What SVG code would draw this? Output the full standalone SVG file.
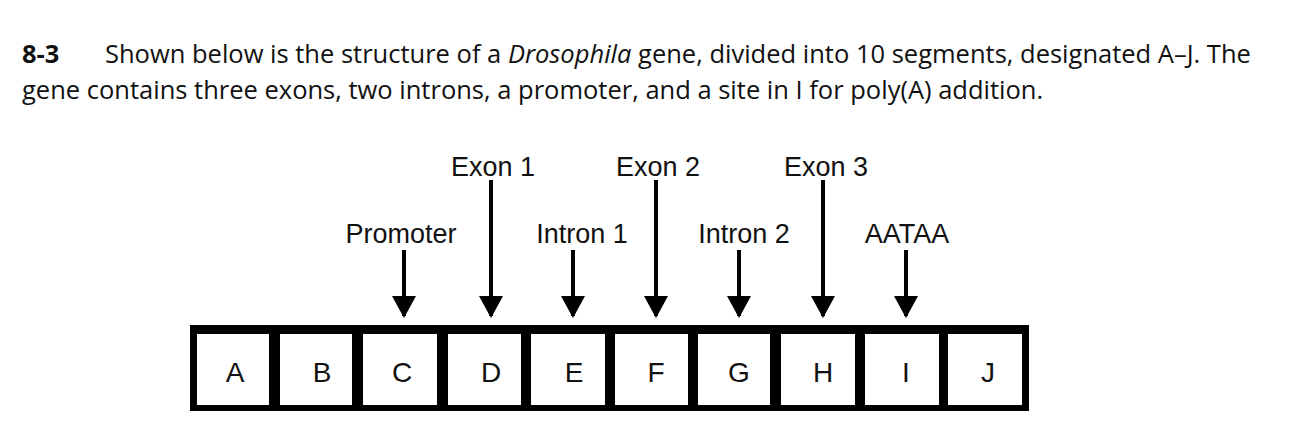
<svg xmlns="http://www.w3.org/2000/svg" width="1306" height="440" viewBox="0 0 1306 440">
<style>
.h{font-family:"Open Sans","Liberation Sans",sans-serif;font-size:25.5px;fill:#111}
.l{font-family:"Liberation Sans",Arial,sans-serif;font-size:27px;fill:#111;text-anchor:middle}
.s{font-family:"Liberation Sans",Arial,sans-serif;font-size:28px;fill:#111;text-anchor:middle}
.bx{fill:#fff;stroke:#000;stroke-width:2}
.ar{stroke:#000;stroke-width:4;fill:none}
</style>
<defs><marker id="ah" markerUnits="userSpaceOnUse" markerWidth="26" markerHeight="22" refX="13" refY="20" orient="0"><path d="M1,0 L25,0 L13,22 Z" fill="#000"/></marker></defs>
<rect width="1306" height="440" fill="#fff"/>
<text class="h" x="22" y="63"><tspan font-weight="bold">8-3</tspan><tspan x="105">Shown below is the structure of a </tspan><tspan font-style="italic">Drosophila</tspan><tspan> gene, divided into 10 segments, designated A–J. The</tspan></text>
<text class="h" x="22" y="99">gene contains three exons, two introns, a promoter, and a site in I for poly(A) addition.</text>
<g id="labels">
<text class="l" x="493" y="176">Exon 1</text>
<text class="l" x="658" y="176">Exon 2</text>
<text class="l" x="826" y="176">Exon 3</text>
<text class="l" x="401" y="243">Promoter</text>
<text class="l" x="582" y="243">Intron 1</text>
<text class="l" x="744" y="243">Intron 2</text>
<text class="l" x="907" y="243">AATAA</text>
</g>
<g id="connectors">
<line class="ar" x1="404" y1="250" x2="404" y2="316" marker-end="url(#ah)"/>
<line class="ar" x1="491" y1="180" x2="491" y2="316" marker-end="url(#ah)"/>
<line class="ar" x1="573" y1="250" x2="573" y2="316" marker-end="url(#ah)"/>
<line class="ar" x1="656" y1="180" x2="656" y2="316" marker-end="url(#ah)"/>
<line class="ar" x1="739" y1="250" x2="739" y2="316" marker-end="url(#ah)"/>
<line class="ar" x1="823" y1="180" x2="823" y2="316" marker-end="url(#ah)"/>
<line class="ar" x1="906" y1="250" x2="906" y2="316" marker-end="url(#ah)"/>
</g>
<g id="gene">
<rect x="190" y="325" width="839" height="86" fill="#000"/>
<g id="A"><rect class="bx" x="196" y="333" width="74" height="73"/><text class="s" x="235" y="382">A</text></g>
<g id="B"><rect class="bx" x="279" y="333" width="74" height="73"/><text class="s" x="322" y="382">B</text></g>
<g id="C"><rect class="bx" x="362" y="333" width="76" height="73"/><text class="s" x="402" y="382">C</text></g>
<g id="D"><rect class="bx" x="447" y="333" width="75" height="73"/><text class="s" x="491" y="382">D</text></g>
<g id="E"><rect class="bx" x="530" y="333" width="76" height="73"/><text class="s" x="574" y="382">E</text></g>
<g id="F"><rect class="bx" x="614" y="333" width="75" height="73"/><text class="s" x="656" y="382">F</text></g>
<g id="G"><rect class="bx" x="697" y="333" width="74" height="73"/><text class="s" x="739" y="382">G</text></g>
<g id="H"><rect class="bx" x="780" y="333" width="76" height="73"/><text class="s" x="823" y="382">H</text></g>
<g id="I"><rect class="bx" x="864" y="333" width="76" height="73"/><text class="s" x="906" y="382">I</text></g>
<g id="J"><rect class="bx" x="947" y="333" width="76" height="73"/><text class="s" x="988" y="382">J</text></g>
</g>
</svg>
